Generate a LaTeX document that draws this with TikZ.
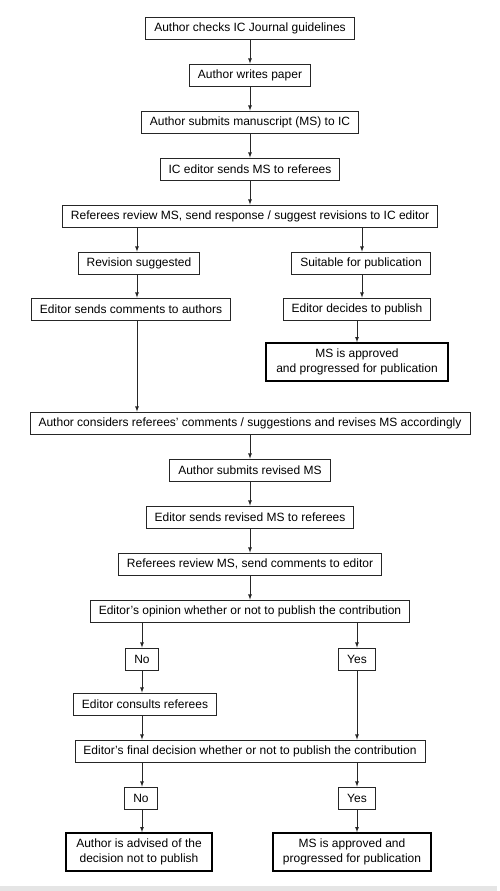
\documentclass[tikz,border=0pt]{standalone}
\usepackage{fontspec}
\setmainfont{Liberation Sans}
\usetikzlibrary{arrows}
\usetikzlibrary{positioning}

\begin{document}
\begin{tikzpicture}[x=1pt,y=-1pt,>=latex,
  every node/.style={draw=black!85,line width=0.8pt,inner xsep=8.5pt,inner ysep=0pt,minimum height=22pt,font=\fontsize{12}{14.4}\selectfont},
  final/.style={draw=black,line width=1.6pt,inner xsep=10pt,minimum height=38pt,align=center},
  link/.style={->,line width=0.8pt,draw=black!85}]
  \useasboundingbox (0,0) rectangle (500,891);
  \fill[black!10] (0,886) rectangle (497,891);
  % columns for the side branches
  \coordinate (L) at (137,0);
  \coordinate (R) at (362,0);
  \coordinate (LL) at (142,0);
  \coordinate (RR) at (357,0);
  % first round
  \node (1) at (250,28) {Author checks IC Journal guidelines};
  \node (2) at (250,75) {Author writes paper};
  \node (3) at (250,122) {Author submits manuscript (MS) to IC};
  \node (4) at (250,169) {IC editor sends MS to referees};
  \node (5) at (250,216) {Referees review MS, send response / suggest revisions to IC editor};
  \node (6) at (139,263) {Revision suggested};
  \node (7) at (361,263) {Suitable for publication};
  \node (8) at (131,309) {Editor sends comments to authors};
  \node (9) at (357,309) {Editor decides to publish};
  \node[final] (10) at (357,362) {MS is approved\\and progressed for publication};
  % second round
  \node (11) at (250,423) {Author considers referees' comments / suggestions and revises MS accordingly};
  \node (12) at (250,470) {Author submits revised MS};
  \node (13) at (250,517) {Editor sends revised MS to referees};
  \node (14) at (250,564) {Referees review MS, send comments to editor};
  \node (15) at (250,611) {Editor's opinion whether or not to publish the contribution};
  \node (16) at (142,659) {No};
  \node (17) at (357,659) {Yes};
  \node (18) at (145,704) {Editor consults referees};
  \node (19) at (250,751) {Editor's final decision whether or not to publish the contribution};
  \node (20) at (141,798) {No};
  \node (21) at (357,798) {Yes};
  \node[final] (22) at (139,852) {Author is advised of the\\decision not to publish};
  \node[final] (23) at (352,852) {MS is approved and\\progressed for publication};
  \draw[link](1)--(2);
  \draw[link](2)--(3);
  \draw[link](3)--(4);
  \draw[link](4)--(5);
  \draw[link](5.south -| L)--(6.north -| L);
  \draw[link](5.south -| R)--(7.north -| R);
  \draw[link](6.south -| L)--(8.north -| L);
  \draw[link](7.south -| R)--(9.north -| R);
  \draw[link](9.south -| RR)--(10.north -| RR);
  \draw[link](8.south -| L)--(11.north -| L);
  \draw[link](11)--(12);
  \draw[link](12)--(13);
  \draw[link](13)--(14);
  \draw[link](14)--(15);
  \draw[link](15.south -| LL)--(16.north -| LL);
  \draw[link](15.south -| RR)--(17.north -| RR);
  \draw[link](16.south -| LL)--(18.north -| LL);
  \draw[link](18.south -| LL)--(19.north -| LL);
  \draw[link](17.south -| RR)--(19.north -| RR);
  \draw[link](19.south -| LL)--(20.north -| LL);
  \draw[link](19.south -| RR)--(21.north -| RR);
  \draw[link](20.south -| LL)--(22.north -| LL);
  \draw[link](21.south -| RR)--(23.north -| RR);
\end{tikzpicture}
\end{document}
